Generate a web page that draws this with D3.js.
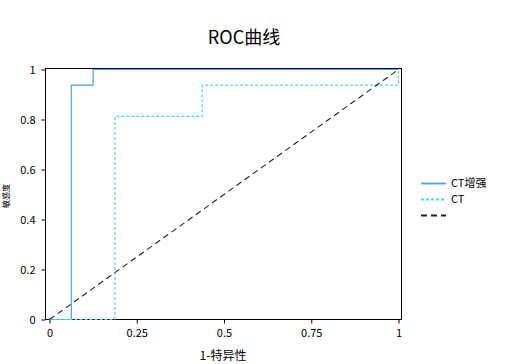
<!DOCTYPE html>
<html>
<head>
<meta charset="utf-8">
<script src="https://d3js.org/d3.v7.min.js"></script>
<style>
  body { margin: 0; background: #fff; }
  text { font-family: "Noto Sans CJK SC", "Noto Sans", sans-serif; fill: #000; }
</style>
</head>
<body>
<script>
// ROC data (1-specificity, sensitivity)
const ctEnhX = [0, 0.0625, 0.0625, 0.125, 0.125, 1];
const ctEnhY = [0, 0, 0.9375, 0.9375, 1, 1];
const ctX = [0, 0.1875, 0.1875, 0.4375, 0.4375, 1, 1];
const ctY = [0, 0, 0.8125, 0.8125, 0.9375, 0.9375, 1];
const refX = [0, 1];
const refY = [0, 1];
const seriesNames = ['CT增强', 'CT', ''];
const xTicks = [0, 0.25, 0.5, 0.75, 1];
const yTicks = [0, 0.2, 0.4, 0.6, 0.8, 1];

const width = 513, height = 364;
const svg = d3.select('body').append('svg')
  .attr('width', width).attr('height', height);

const x = d3.scaleLinear().domain([0, 1]).range([49.5, 398.5]);
const y = d3.scaleLinear().domain([0, 1]).range([319.5, 69.5]);

// frame
svg.append('rect')
  .attr('x', 45.5).attr('y', 68.5)
  .attr('width', 356).attr('height', 251)
  .attr('fill', 'none').attr('stroke', '#000').attr('stroke-width', 1);

const fmt = d => d === 0 ? '0' : d === 1 ? '1' : String(d);

const xAxis = svg.append('g')
  .attr('transform', 'translate(0,319.5)')
  .call(d3.axisBottom(x).tickValues(xTicks).tickFormat(fmt).tickSize(4).tickPadding(6));
const yAxis = svg.append('g')
  .attr('transform', 'translate(45.5,0)')
  .call(d3.axisLeft(y).tickValues(yTicks).tickFormat(fmt).tickSize(4).tickPadding(6));
[xAxis, yAxis].forEach(g => {
  g.select('.domain').remove();
  g.selectAll('text').style('font-size', '11px').attr('fill', '#000');
  g.selectAll('line').attr('stroke', '#000');
});

const line = d3.line().x(d => x(d[0])).y(d => y(d[1]));
const series = [
  { pts: d3.zip(ctEnhX, ctEnhY), color: '#4aa0ea', dash: null, width: 1.2 },
  { pts: d3.zip(ctX, ctY), color: '#48dcd0', dash: '3,2', width: 1.2 },
  { pts: d3.zip(refX, refY), color: '#222', dash: '6,4', width: 1.1 }
];

series.forEach(s => {
  svg.append('path')
    .attr('d', line(s.pts))
    .attr('fill', 'none')
    .attr('stroke', s.color)
    .attr('stroke-width', s.width)
    .attr('stroke-dasharray', s.dash);
});

// titles
svg.append('text').attr('x', 244).attr('y', 44)
  .attr('text-anchor', 'middle').style('font-size', '18px').text('ROC曲线');
svg.append('text').attr('x', 223).attr('y', 360)
  .attr('text-anchor', 'middle').style('font-size', '12px').text('1-特异性');
svg.append('text')
  .attr('transform', 'translate(9,196) rotate(-90)')
  .attr('text-anchor', 'middle').style('font-size', '8px').text('敏感度');

// legend
const legend = svg.append('g').attr('transform', 'translate(421,183)');
series.forEach((s, i) => {
  const g = legend.append('g').attr('transform', `translate(0,${i * 16})`);
  g.append('line').attr('x1', 0).attr('x2', 25).attr('y1', 0.5).attr('y2', 0.5)
    .attr('stroke', s.color).attr('stroke-width', 1.8)
    .attr('stroke-dasharray', s.dash);
  g.append('text').attr('x', 30).attr('y', 4)
    .style('font-size', '11px').text(seriesNames[i]);
});
</script>
</body>
</html>
